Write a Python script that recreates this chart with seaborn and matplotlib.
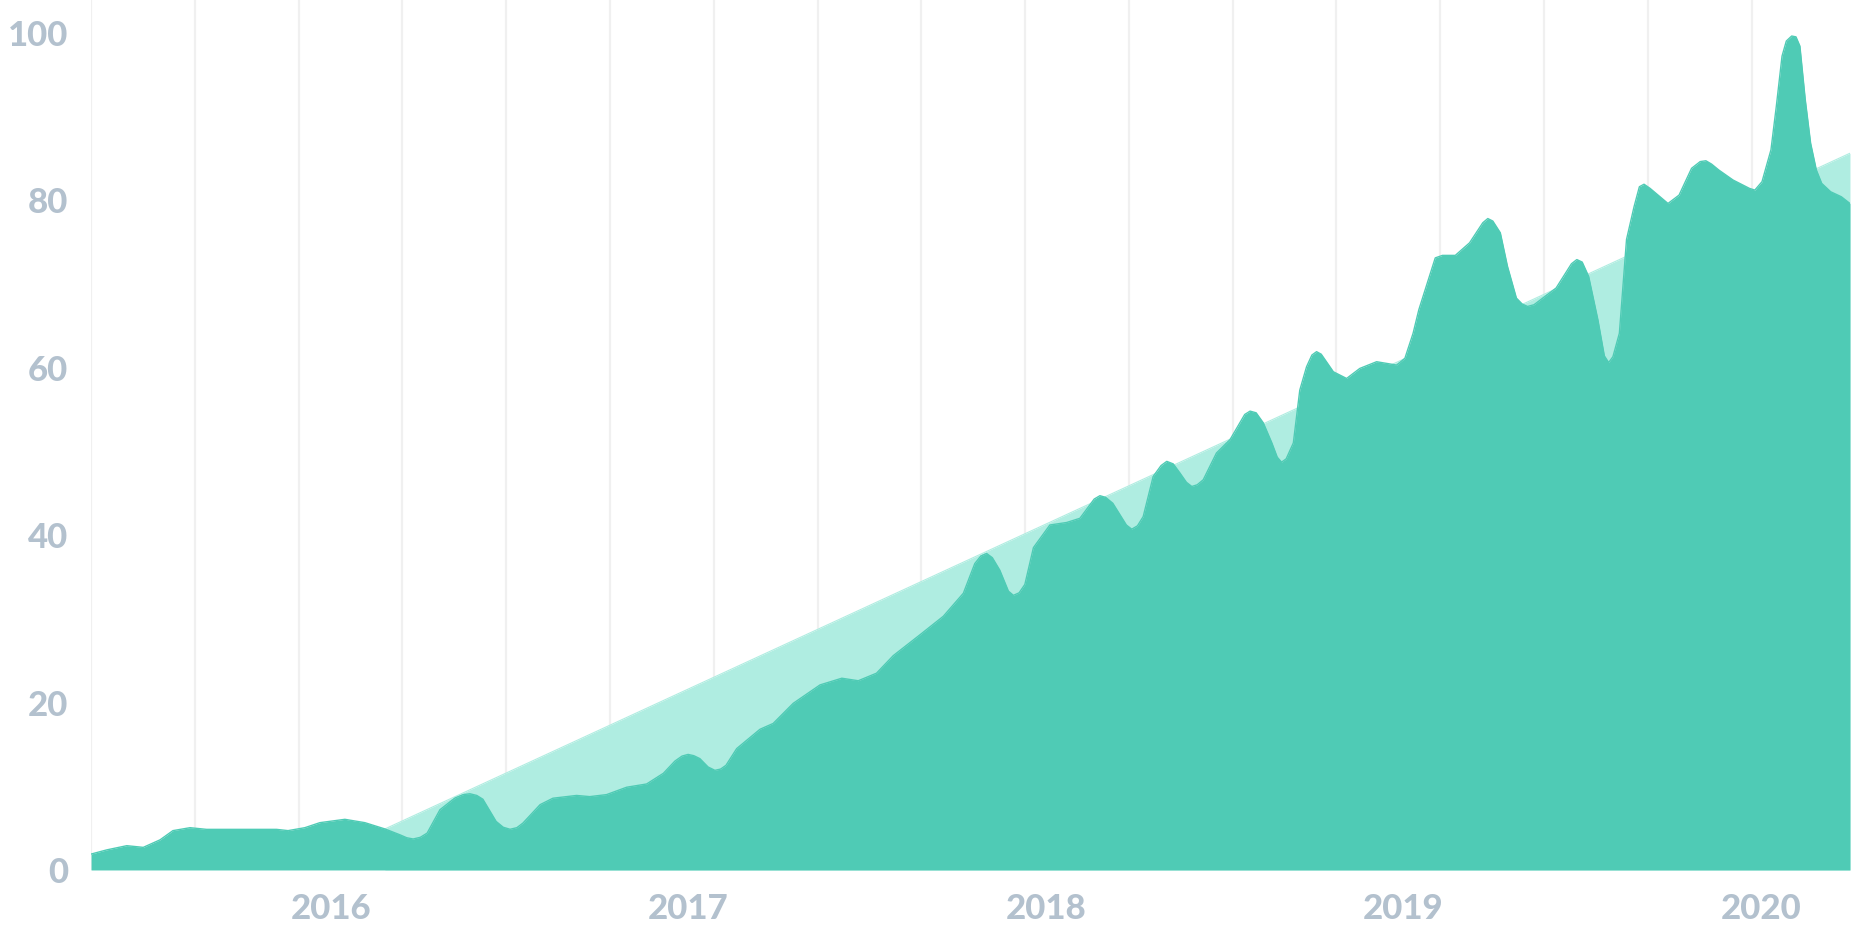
import numpy as np
import pandas as pd
import matplotlib
matplotlib.use("Agg")
import matplotlib.pyplot as plt
import seaborn as sns

# decimal years, with the values of the filled series
years = [
    2015.329, 2015.373, 2015.429, 2015.475, 2015.522, 2015.558, 2015.606, 2015.652,
    2015.745, 2015.848, 2015.880, 2015.927, 2015.969, 2016.039, 2016.095, 2016.151,
    2016.193, 2016.212, 2016.230, 2016.250, 2016.269, 2016.305, 2016.347, 2016.370,
    2016.389, 2016.408, 2016.425, 2016.462, 2016.482, 2016.501, 2016.520, 2016.537,
    2016.585, 2016.621, 2016.687, 2016.724, 2016.771, 2016.827, 2016.883, 2016.930,
    2016.962, 2016.982, 2016.999, 2017.015, 2017.032, 2017.055, 2017.074, 2017.090,
    2017.105, 2017.135, 2017.200, 2017.237, 2017.293, 2017.368, 2017.429, 2017.475,
    2017.526, 2017.573, 2017.648, 2017.713, 2017.769, 2017.801, 2017.818, 2017.834,
    2017.850, 2017.871, 2017.895, 2017.909, 2017.925, 2017.941, 2017.965, 2018.011,
    2018.058, 2018.095, 2018.135, 2018.151, 2018.167, 2018.187, 2018.225, 2018.240,
    2018.256, 2018.272, 2018.300, 2018.322, 2018.338, 2018.356, 2018.375, 2018.393,
    2018.408, 2018.423, 2018.440, 2018.477, 2018.515, 2018.556, 2018.571, 2018.588,
    2018.608, 2018.632, 2018.647, 2018.659, 2018.672, 2018.692, 2018.710, 2018.729,
    2018.744, 2018.757, 2018.770, 2018.804, 2018.841, 2018.878, 2018.925, 2018.981,
    2019.004, 2019.027, 2019.043, 2019.089, 2019.109, 2019.145, 2019.185, 2019.222,
    2019.236, 2019.250, 2019.271, 2019.291, 2019.316, 2019.332, 2019.347, 2019.365,
    2019.427, 2019.470, 2019.485, 2019.500, 2019.518, 2019.544, 2019.562, 2019.574,
    2019.586, 2019.604, 2019.624, 2019.645, 2019.660, 2019.673, 2019.690, 2019.740,
    2019.771, 2019.806, 2019.830, 2019.846, 2019.862, 2019.882, 2019.922, 2019.968,
    2019.983, 2020.003, 2020.028, 2020.043, 2020.059, 2020.071, 2020.086, 2020.098,
    2020.109, 2020.124, 2020.139, 2020.155, 2020.170, 2020.195, 2020.225, 2020.249,
]
actual = [
    1.9, 2.4, 2.9, 2.7, 3.6, 4.7, 5.05, 4.85,
    4.85, 4.85, 4.7, 5.05, 5.65, 6.05, 5.65, 4.9,
    4.2, 3.85, 3.7, 3.9, 4.4, 7.2, 8.6, 9.0,
    9.1, 8.9, 8.45, 5.8, 5.1, 4.86, 5.05, 5.6,
    7.8, 8.57, 8.9, 8.76, 9.0, 9.88, 10.27, 11.55,
    13.0, 13.6, 13.8, 13.65, 13.3, 12.3, 11.9, 12.05,
    12.5, 14.5, 16.8, 17.5, 19.9, 22.1, 22.9, 22.6,
    23.5, 25.6, 28.1, 30.3, 33.05, 36.6, 37.5, 37.8,
    37.3, 35.8, 33.3, 32.8, 33.1, 34.1, 38.5, 41.2,
    41.5, 42.0, 44.3, 44.7, 44.5, 43.8, 41.2, 40.7,
    41.1, 42.2, 47.0, 48.3, 48.8, 48.5, 47.4, 46.3,
    45.8, 46.0, 46.6, 49.8, 51.4, 54.4, 54.8, 54.6,
    53.4, 51.0, 49.3, 48.7, 49.1, 51.0, 57.3, 60.1,
    61.5, 61.9, 61.6, 59.5, 58.7, 59.9, 60.7, 60.3,
    61.1, 64.1, 66.9, 73.1, 73.4, 73.4, 74.9, 77.3,
    77.8, 77.5, 76.1, 72.1, 68.3, 67.6, 67.3, 67.5,
    69.5, 72.4, 72.9, 72.6, 70.9, 65.7, 61.4, 60.6,
    61.3, 64.1, 75.3, 79.2, 81.6, 81.9, 81.4, 79.6,
    80.6, 83.8, 84.6, 84.7, 84.3, 83.6, 82.4, 81.4,
    81.2, 82.2, 86.0, 91.2, 97.2, 99.0, 99.6, 99.5,
    98.4, 92.0, 86.8, 83.6, 82.0, 81.0, 80.4, 79.6,
]

# straight trend behind it
trend_years = [2016.151, 2020.249]
trend = [4.9, 85.6]

year_ticks = [2016, 2017, 2018, 2019, 2020]
value_ticks = [0, 20, 40, 60, 80, 100]

dark = "#4fcbb5"
light = "#afede1"
label_color = "#b3c1ce"

df = pd.DataFrame({"year": years, "value": actual})
trend_df = pd.DataFrame({"year": trend_years, "value": trend})

sns.set_theme(style="white")
plt.rcParams["font.family"] = ["Lato", "DejaVu Sans"]

fig = plt.figure(figsize=(18.66, 9.40), dpi=100)
ax = fig.add_axes([0.0488, 0.0745, 0.9426, 0.9255])

x0, x1 = years[0], years[-1]
ax.set_xlim(x0, x1)
ax.set_ylim(0, 103.9)

# faint vertical guides
for gx in np.arange(17) * 0.2903 + x0:
    ax.axvline(gx, color="#f0f0f0", lw=1.6, zorder=0)

ax.fill_between(trend_df["year"], trend_df["value"], color=light, lw=0, zorder=1)
sns.lineplot(data=trend_df, x="year", y="value", color=light, lw=0.8, ax=ax, zorder=1)
ax.fill_between(df["year"], df["value"], color=dark, lw=0, zorder=2)
sns.lineplot(data=df, x="year", y="value", color=dark, lw=1.0, ax=ax, zorder=2,
             solid_joinstyle="round")

ax.set_xticks(year_ticks)
ax.set_xticklabels([str(y) for y in year_ticks])
ax.set_yticks(value_ticks)
ax.set_yticklabels([str(v) for v in value_ticks])
ax.tick_params(axis="both", length=0, labelsize=25, labelcolor=label_color, pad=16.5)
for lab in ax.get_xticklabels() + ax.get_yticklabels():
    lab.set_fontweight("black")

ax.set_xlabel("")
ax.set_ylabel("")
for s in ax.spines.values():
    s.set_visible(False)
ax.grid(False)

fig.savefig("out.png", dpi=100)
